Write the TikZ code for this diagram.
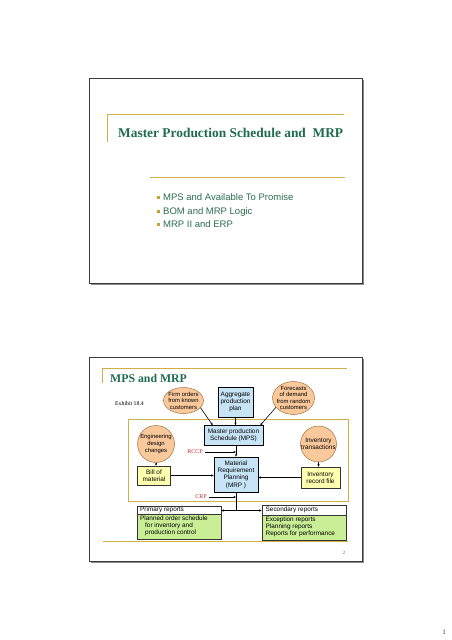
\documentclass[tikz,border=0pt]{standalone}
\usepackage{fontspec}
\setmainfont{Liberation Serif}
\setsansfont{Liberation Sans}
\usetikzlibrary{arrows.meta,shapes.geometric,calc}
\definecolor{titlegreen}{HTML}{1E6B4E}
\definecolor{bulletgreen}{HTML}{2C6E52}
\definecolor{goldrule}{HTML}{D2AE48}
\definecolor{goldsq}{HTML}{C8A030}
\definecolor{framec}{HTML}{3A3A3A}
\definecolor{shadowc}{HTML}{8A8A8A}
\definecolor{peach}{HTML}{F9C89B}
\definecolor{peachline}{HTML}{A8733F}
\definecolor{bluefill}{HTML}{C7E4F7}
\definecolor{yellowfill}{HTML}{FFFFB0}
\definecolor{greenfill}{HTML}{C9EE95}
\definecolor{redtxt}{HTML}{C03030}
\tikzset{
  oval/.style={ellipse, draw=peachline, fill=peach, line width=0.5pt, inner sep=0pt},
  otext/.style={font=\sffamily\fontsize{5.9}{6.6}\selectfont, align=center, inner sep=0pt},
  bluebox/.style={rectangle, draw=black, fill=bluefill, line width=0.6pt, inner sep=0pt, align=center,
     font=\sffamily\fontsize{6.4}{7.3}\selectfont},
  yelbox/.style={rectangle, draw=black!80, fill=yellowfill, line width=0.5pt, inner sep=0pt, align=center,
     font=\sffamily\fontsize{6.4}{7.3}\selectfont},
  headbox/.style={rectangle, draw=black!80, fill=white, line width=0.5pt, inner sep=0pt},
  greenbox/.style={rectangle, draw=black!80, fill=greenfill, line width=0.5pt, inner sep=0pt},
  dtext/.style={font=\sffamily\fontsize{6.4}{7.2}\selectfont, align=left, inner sep=0pt},
  arr/.style={-{Stealth[length=2.6pt,width=2.2pt]}, line width=0.6pt, black},
  redlabel/.style={font=\fontsize{6}{7}\selectfont, text=redtxt, inner sep=0pt},
  titletext/.style={font=\bfseries, text=titlegreen, inner sep=0pt, anchor=base west},
  bullettext/.style={font=\sffamily\fontsize{9.5}{11}\selectfont, text=bulletgreen, inner sep=0pt, anchor=base west},
  bsq/.style={rectangle, fill=goldsq, minimum size=3pt, inner sep=0pt},
  gold/.style={draw=goldrule, line width=0.8pt}
}
\begin{document}
\begin{tikzpicture}[x=1pt,y=-1pt]
\useasboundingbox (0,0) rectangle (452,640);
\fill[white] (0,0) rectangle (452,640);

% ---------- Slide 1 ----------
\draw[shadowc, line width=1.2pt] (90.5,284) -- (363,284) -- (363,79.5);
\draw[framec, line width=0.7pt] (89,78) rectangle (362,283);
\draw[gold] (107,142) -- (107,114) -- (344,114);
\node[titletext, font=\bfseries\fontsize{13.4}{15}\selectfont] (t1) at (118,137) {Master Production Schedule and\ \ MRP};
\draw[gold] (150,177) -- (345,177);
\node[bsq] (b1) at (158,197.5) {};
\node[bsq] (b2) at (158,211.5) {};
\node[bsq] (b3) at (158,224.5) {};
\node[bullettext] (l1) at (163,200.4) {MPS and Available To Promise};
\node[bullettext] (l2) at (163,214.2) {BOM and MRP Logic};
\node[bullettext] (l3) at (163,227.4) {MRP II and ERP};

% ---------- Slide 2 ----------
\draw[shadowc, line width=1.2pt] (90.5,562) -- (363,562) -- (363,358.5);
\draw[framec, line width=0.7pt] (89,357) rectangle (362,561);
\draw[gold] (102,383) -- (102,368) -- (347,368);
\node[titletext, font=\bfseries\fontsize{11.8}{14}\selectfont] (t2) at (110,382) {MPS and MRP};
\node[font=\fontsize{5.8}{7}\selectfont, inner sep=0pt, anchor=base west] (exh) at (115,405) {Exhibit 18.4};

\draw[draw=goldrule, line width=0.6pt] (128,419) rectangle (348,501);

\node[oval, minimum width=40pt, minimum height=26pt] (firm) at (183.5,400.5) {};
\node[otext] (firmt) at (firm) {Firm orders\\from known\\customers};
\node[bluebox, minimum width=35pt, minimum height=30pt] (agg) at (235.5,402) {Aggregate\\production\\plan};
\node[oval, minimum width=42pt, minimum height=33pt] (fore) at (293.5,398) {};
\node[otext] (foret) at (fore) {Forecasts\\of demand\\from random\\customers};

\node[bluebox, minimum width=59pt, minimum height=20pt] (mps) at (233.5,435.5) {Master production\\Schedule (MPS)};
\node[oval, minimum width=37pt, minimum height=37pt] (eng) at (156,444) {};
\node[otext] (engt) at (eng) {Engineering\\design\\changes};
\node[oval, minimum width=36pt, minimum height=36pt] (invt) at (318.5,444) {};
\node[otext, font=\sffamily\fontsize{6.4}{7.3}\selectfont] (invtt) at (invt) {Inventory\\transactions};

\node[bluebox, minimum width=44pt, minimum height=35pt] (mrp) at (236,474.5) {Material\\Requirement\\Planning\\(MRP )};
\node[yelbox, minimum width=33pt, minimum height=19pt] (bill) at (154,475.5) {Bill of\\material};
\node[yelbox, minimum width=39pt, minimum height=21pt] (invr) at (320.5,477.5) {Inventory\\record file};

\node[redlabel] (rccp) at (195,452) {RCCP};
\node[redlabel] (crp) at (201,497) {CRP};
\coordinate (rccpend) at (236,452);
\coordinate (crpend) at (236,497);
\coordinate (split) at (236,510.5);

% reports
\node[headbox, minimum width=84pt, minimum height=8.5pt] (primh) at (179,510) {};
\node[greenbox, minimum width=84pt, minimum height=25pt] (primb) at (179,526.5) {};
\node[dtext, anchor=west] (primht) at (140,510) {Primary reports};
\node[dtext, anchor=north west] (primbt) at (140,515.5) {Planned order schedule\\\hspace*{5pt}for inventory and\\\hspace*{5pt}production control};

\node[headbox, minimum width=84pt, minimum height=10pt] (sech) at (304,510) {};
\node[greenbox, minimum width=84pt, minimum height=25pt] (secb) at (304,527.5) {};
\node[dtext, anchor=west] (secht) at (265.5,509.5) {Secondary reports};
\node[dtext, anchor=north west] (secbt) at (265.5,516.5) {Exception reports\\Planning reports\\Reports for performance};

\draw[gold] (103,541) -- (348,541);

% connectors
\draw[arr] (firm.-23) -- ($(mps.north west)+(9,0)$);
\draw[arr] (fore.208) -- ($(mps.north east)+(-3,0)$);
\draw[arr] (agg.south) -- (agg.south |- mps.north);
\draw[arr] (mps.south -| mrp.north) -- (mrp.north);
\draw[arr] (rccp.east) ++(2,0) -- (rccpend);
\draw[arr] (eng.south) -- (eng.south |- bill.north);
\draw[arr] (invt.south) -- (invt.south |- invr.north);
\draw[arr] (bill.east) -- (bill.east -| mrp.west);
\draw[arr] (invr.west) -- (invr.west -| mrp.east);
\draw[arr] (crp.east) ++(2,0) -- (crpend);
\draw[line width=0.6pt] (mrp.south) -- (split);
\draw[arr] (split) -- (split -| primh.east);
\draw[arr] (split) -- (split -| sech.west);

% page numbers
\node[font=\fontsize{5}{6}\selectfont, text=black!60, inner sep=0pt] (p2) at (344,553) {2};
\node[font=\fontsize{7}{8}\selectfont, text=black!80, inner sep=0pt] (p1) at (444,632) {1};
\end{tikzpicture}
\end{document}
